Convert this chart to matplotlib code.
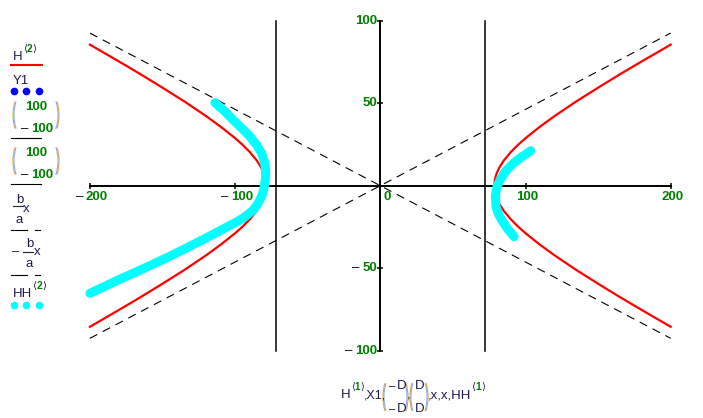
import numpy as np
import matplotlib
matplotlib.use('Agg')
import matplotlib.pyplot as plt
from matplotlib.lines import Line2D
from matplotlib.patches import Arc
from matplotlib.transforms import IdentityTransform
from matplotlib.offsetbox import TextArea, HPacker, AnnotationBbox

# hyperbola H, first quadrant (the curve is symmetric)
red_x = [78.5, 79, 80, 82, 85, 90, 95, 100, 110, 120, 135, 150, 165, 180, 200]
red_y = [0, 4.1, 7.2, 11.0, 15.2, 20.5, 24.9, 28.8, 35.8, 42.2, 51.1, 59.4, 67.5, 75.3, 85.5]

# HH, the moved copy (thick cyan dots)
hh_left_x = [-113.9, -107, -101.3, -95, -89.7, -85, -81.7, -79.8, -79, -79, -79.5, -80.5, -82,
             -84.5, -87.5, -92, -97, -103, -110.5, -122, -134.5, -146, -157.6, -169, -180.4,
             -190, -200]
hh_left_y = [50.3, 45, 39.8, 34.5, 29.7, 24.5, 19.6, 14.5, 9.5, 5, 1.5, -3, -7,
             -11, -14.7, -18, -21, -23.8, -27.3, -32.6, -38.2, -43.2, -48, -52.6, -57.1,
             -61.1, -65.2]
hh_right_x = [103.6, 97.5, 91.6, 86.5, 82.4, 80.2, 79.3, 79.7, 81.3, 83.6, 87.5, 92.1]
hh_right_y = [21.2, 17.5, 13.6, 9, 3.5, -1, -6, -12.7, -17, -20.8, -26, -30.9]

D = 72
d_y = [100, -100]
asym_x = [-200, 200]
asym_y = [-92.5, 92.5]

x_ticks = [-200, -100, 0, 100, 200]
y_ticks = [-100, -50, 50, 100]

FAM = ['Liberation Sans', 'DejaVu Sans']
GREEN = '#008000'
DARK = '#1c1c4c'
CYAN = '#00ffff'
W, H = 703, 418

fig = plt.figure(figsize=(W / 100, H / 100), dpi=100)
ax = fig.add_axes([89.9 / W, (H - 350.7) / H, 580.8 / W, 330 / H])
ax.set_xlim(-200, 200)
ax.set_ylim(-100, 100)

# crossed axes through the origin
for side in ['top', 'right']:
    ax.spines[side].set_visible(False)
ax.spines['left'].set_position(('data', 0))
ax.spines['bottom'].set_position(('data', 0))
for side in ['left', 'bottom']:
    ax.spines[side].set_linewidth(1.4)
ax.set_xticks([t for t in x_ticks if t != 0])
ax.set_yticks(y_ticks)
ax.tick_params(direction='inout', length=5, width=1.1, labelbottom=False, labelleft=False)

rx = np.array(red_x)
ry = np.array(red_y)
bx = np.concatenate([rx[::-1], rx[1:]])
by = np.concatenate([-ry[::-1], ry[1:]])
ax.plot(bx, by, color='red', lw=1.6, clip_on=False)
ax.plot(-bx, by, color='red', lw=1.6, clip_on=False)

ax.plot([-D, -D], d_y, color='black', lw=1.1, clip_on=False)
ax.plot([D, D], d_y, color='black', lw=1.1, clip_on=False)

ax.plot(asym_x, asym_y, color='black', lw=0.8, dashes=(7.5, 5.5), clip_on=False)
ax.plot(asym_x, [-v for v in asym_y], color='black', lw=0.8, dashes=(7.5, 5.5), clip_on=False)

ax.plot(hh_left_x, hh_left_y, color=CYAN, lw=6.5, solid_capstyle='round',
        solid_joinstyle='round', clip_on=False, zorder=3)
ax.plot(hh_right_x, hh_right_y, color=CYAN, lw=6.5, solid_capstyle='round',
        solid_joinstyle='round', clip_on=False, zorder=3)


def num_label(x, y, val, align, offset):
    kids = []
    if val < 0:
        kids.append(TextArea('–', textprops=dict(color='black', fontsize=9.5, family=FAM)))
    kids.append(TextArea(f'{abs(val)}', textprops=dict(color=GREEN, fontsize=9.5,
                                                        fontweight='bold', family=FAM)))
    box = HPacker(children=kids, align='baseline', pad=0, sep=2)
    ab = AnnotationBbox(box, (x, y), xybox=offset, boxcoords='offset points',
                        box_alignment=align, frameon=False, pad=0, annotation_clip=False)
    ax.add_artist(ab)


for v in x_ticks:
    if v == 0:
        num_label(v, 0, v, (0, 1), (2.0, -4.0))
    else:
        num_label(v, 0, v, (0.5, 1), (1.5, -4.0))
for v in y_ticks:
    num_label(0, v, v, (1, 0.5), (-2.5, 0))

# ---- Mathcad style legend and x-axis expression, placed in pixels ----
renderer = fig.canvas.get_renderer()
PIX = IdentityTransform()


def put(x, y, s, color=DARK, size=9.5, weight='normal', ha='left'):
    t = fig.text(x / W, 1 - y / H, s, color=color, fontsize=size, fontweight=weight,
                 family=FAM, ha=ha, va='baseline')
    return t.get_window_extent(renderer).x1


def run(x, y, parts):
    for s, color, dy, size, weight in parts:
        x = put(x, y + dy, s, color, size, weight)
    return x


def sup(digit, size=7.5):
    return [('⟨', DARK, -8, size, 'normal'), (digit, GREEN, -8, size, 'bold'),
            ('⟩', DARK, -8, size, 'normal')]


def seg(x0, x1, y, color='black', lw=0.8):
    fig.add_artist(Line2D([x0, x1], [H - y, H - y], color=color, lw=lw, transform=PIX))


def paren(xl, xr, ytop, ybot):
    h = (ybot - ytop) / 0.866
    w = 20
    cy = H - (ytop + ybot) / 2
    for dx, col in [(0, '#e0a050'), (1.0, '#8fb0e0')]:
        fig.add_artist(Arc((xl + w / 2 + dx, cy), w, h, theta1=120, theta2=240,
                           color=col, lw=0.8, transform=PIX))
        fig.add_artist(Arc((xr - w / 2 - dx, cy), w, h, theta1=-60, theta2=60,
                           color=col, lw=0.8, transform=PIX))


def dots(y, color):
    fig.add_artist(Line2D([14, 26, 39], [H - y] * 3, color=color, lw=0, marker='o',
                          markersize=4.5, transform=PIX))


# H<2>
run(13, 60, [('H', DARK, 0, 9.5, 'normal')] + sup('2'))
seg(11, 42, 65, color='red', lw=1.5)
# Y1
put(13, 84, 'Y1')
dots(91, '#0000ff')
# the two (100, -100) matrices
for top, b1, b2 in [(96, 110, 132), (142, 156, 178)]:
    paren(13, 59, top, top + 38)
    put(36, b1, '100', GREEN, 9.5, 'bold', ha='center')
    put(21, b2, '–', 'black')
    put(31, b2, '100', GREEN, 9.5, 'bold')
    seg(11, 41, top + 42)
# b/a x
put(16, 203, 'b')
seg(13, 23, 206, color=DARK)
put(16, 223, 'a')
put(23, 212, 'x')
seg(11, 27, 230)
seg(35, 40, 230)
# -b/a x
put(12, 255, '–')
put(26, 247, 'b')
seg(23, 33, 252, color=DARK)
put(26, 267, 'a')
put(34, 255, 'x')
seg(11, 27, 275)
seg(35, 40, 275)
# HH<2>
run(13, 297, [('HH', DARK, 0, 9.5, 'normal')] + sup('2'))
dots(305, CYAN)

# x-axis expression
run(341, 398, [('H', DARK, 0, 9.5, 'normal')] + sup('1', 7) + [(',X1,', DARK, 0, 9, 'normal')])
paren(383, 408, 377, 417)
for base in [389, 412]:
    put(388.5, base, '–', 'black', size=8)
    put(396.5, base, 'D')
put(407, 398, ',')
paren(410, 428, 377, 417)
put(415, 389, 'D')
put(415, 412, 'D')
run(428, 398, [(',x,x,HH', DARK, 0, 9.5, 'normal')] + sup('1'))

fig.savefig('out.png', dpi=100)
